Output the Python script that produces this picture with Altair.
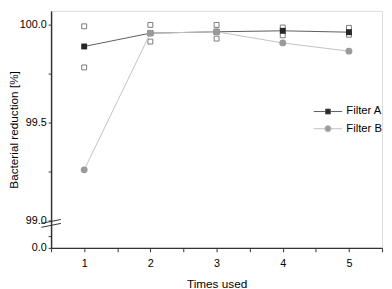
import altair as alt
import pandas as pd

# ---- data ----
times = [1, 2, 3, 4, 5]
filter_a = [99.89, 99.958, 99.965, 99.97, 99.963]
filter_b = [99.26, 99.958, 99.965, 99.908, 99.866]
a_high = [99.993, 100.0, 100.0, 99.987, 99.985]
a_low = [99.783, 99.915, 99.93, 99.947, 99.95]
series_names = ["Filter A", "Filter B"]

x_tick_values = [0.5, 1, 1.5, 2, 2.5, 3, 3.5, 4, 4.5, 5, 5.5]
# broken axis: the "0.0" tick is placed just below the 99.0 break
zero_pos = 98.8615
y_tick_values = [zero_pos, 98.92, 99.0, 99.25, 99.5, 99.75, 100.0]
y_domain = [zero_pos, 100.0715]
break_marks = [(98.9865, 99.0065), (98.9665, 98.9865)]

FONT = "Liberation Sans"
line_colors = ["#5a5a5a", "#c2c2c2"]
marker_colors = ["#262626", "#9a9a9a"]

rows = []
for t, a, b in zip(times, filter_a, filter_b):
    rows.append({"time": t, "value": a, "series": series_names[0]})
    rows.append({"time": t, "value": b, "series": series_names[1]})
df = pd.DataFrame(rows)

err = pd.DataFrame({"time": times * 2, "value": a_high + a_low})
brk = pd.DataFrame({"y1": [b[0] for b in break_marks], "y2": [b[1] for b in break_marks]})

x_enc = alt.X(
    "time:Q",
    scale=alt.Scale(domain=[0.5, 5.5], nice=False, zero=False),
    axis=alt.Axis(
        title="Times used", values=x_tick_values, grid=False,
        labelExpr="datum.value % 1 == 0 ? datum.value : ''",
        tickSize=4, labelPadding=6, titlePadding=10,
        domainColor="#333", tickColor="#333", domainWidth=1.5, tickWidth=1,
        labelFontSize=11, titleFontSize=12, labelColor="#000", titleColor="#000",
        titleFontWeight="normal", labelFont=FONT, titleFont=FONT,
    ),
)
y_scale = alt.Scale(domain=y_domain, nice=False, zero=False)
y_enc = alt.Y(
    "value:Q",
    scale=y_scale,
    axis=alt.Axis(
        title="Bacterial reduction [%]", values=y_tick_values, grid=False,
        labelExpr="datum.value < 98.9 ? '0.0' : (abs(datum.value*2 - round(datum.value*2)) < 0.001 ? format(datum.value, '.1f') : '')",
        tickSize=3, labelPadding=2,
        titleX=-38, titleY=121, titleAngle=270, titleAlign="center", titleBaseline="middle",
        domainColor="#333", tickColor="#333", domainWidth=1.5, tickWidth=1,
        labelFontSize=11, titleFontSize=12, labelColor="#000", titleColor="#000",
        titleFontWeight="normal", labelFont=FONT, titleFont=FONT,
    ),
)

err_layer = alt.Chart(err).mark_point(
    shape="square", filled=True, fill="white", stroke="#7a7a7a",
    strokeWidth=1, size=25, opacity=1,
).encode(x=x_enc, y=y_enc)


def series_layers(name, line_color, marker_color, shape, size):
    base = alt.Chart(df).transform_filter(f"datum.series == '{name}'")
    line = base.mark_line(strokeWidth=1, color=line_color).encode(x=x_enc, y=y_enc)
    pts = base.mark_point(shape=shape, filled=True, color=marker_color, size=size, opacity=1).encode(x=x_enc, y=y_enc)
    return line, pts


line_a, pts_a = series_layers(series_names[0], line_colors[0], marker_colors[0], "square", 36)
line_b, pts_b = series_layers(series_names[1], line_colors[1], marker_colors[1], "circle", 49)

# legend: line + marker symbols drawn as custom paths (the layer itself is invisible)
path_a = "M-2.9,0H-0.5M0.5,0H2.9M-0.5,-0.5H0.5V0.5H-0.5Z"
path_b = "M-2.9,0H-0.65M0.65,0H2.9M-0.65,0A0.65,0.65 0 1,0 0.65,0A0.65,0.65 0 1,0 -0.65,0Z"
leg = alt.Legend(title=None, orient="none", legendX=277, legendY=97,
                 labelFontSize=11.5, labelFont=FONT, labelColor="#000",
                 labelOffset=13, rowPadding=4.5, padding=0,
                 symbolStrokeWidth=1, symbolSize=100, symbolOpacity=1)
legend_layer = alt.Chart(df).mark_point(
    filled=True, size=100, opacity=0, strokeWidth=1
).encode(
    x=x_enc, y=y_enc,
    shape=alt.Shape("series:N", scale=alt.Scale(domain=series_names, range=[path_a, path_b]), legend=leg),
    fill=alt.Fill("series:N", scale=alt.Scale(domain=series_names, range=marker_colors), legend=leg),
    stroke=alt.Stroke("series:N", scale=alt.Scale(domain=series_names, range=line_colors), legend=leg),
)

break_layer = alt.Chart(brk).mark_rule(color="#333", strokeWidth=1).encode(
    x=alt.value(-10), x2=alt.value(10),
    y=alt.Y("y1:Q", scale=y_scale), y2="y2:Q",
)

chart = alt.layer(
    err_layer, line_a, line_b, pts_a, pts_b, legend_layer, break_layer
).properties(
    width=338, height=242,
    autosize=alt.AutoSizeParams(type="none"),
    padding={"left": 44, "right": 2, "top": 0, "bottom": 39},
).configure_view(stroke=None).configure(background="white")

chart.save("out.html", embed_options={"renderer": "svg", "actions": False})
